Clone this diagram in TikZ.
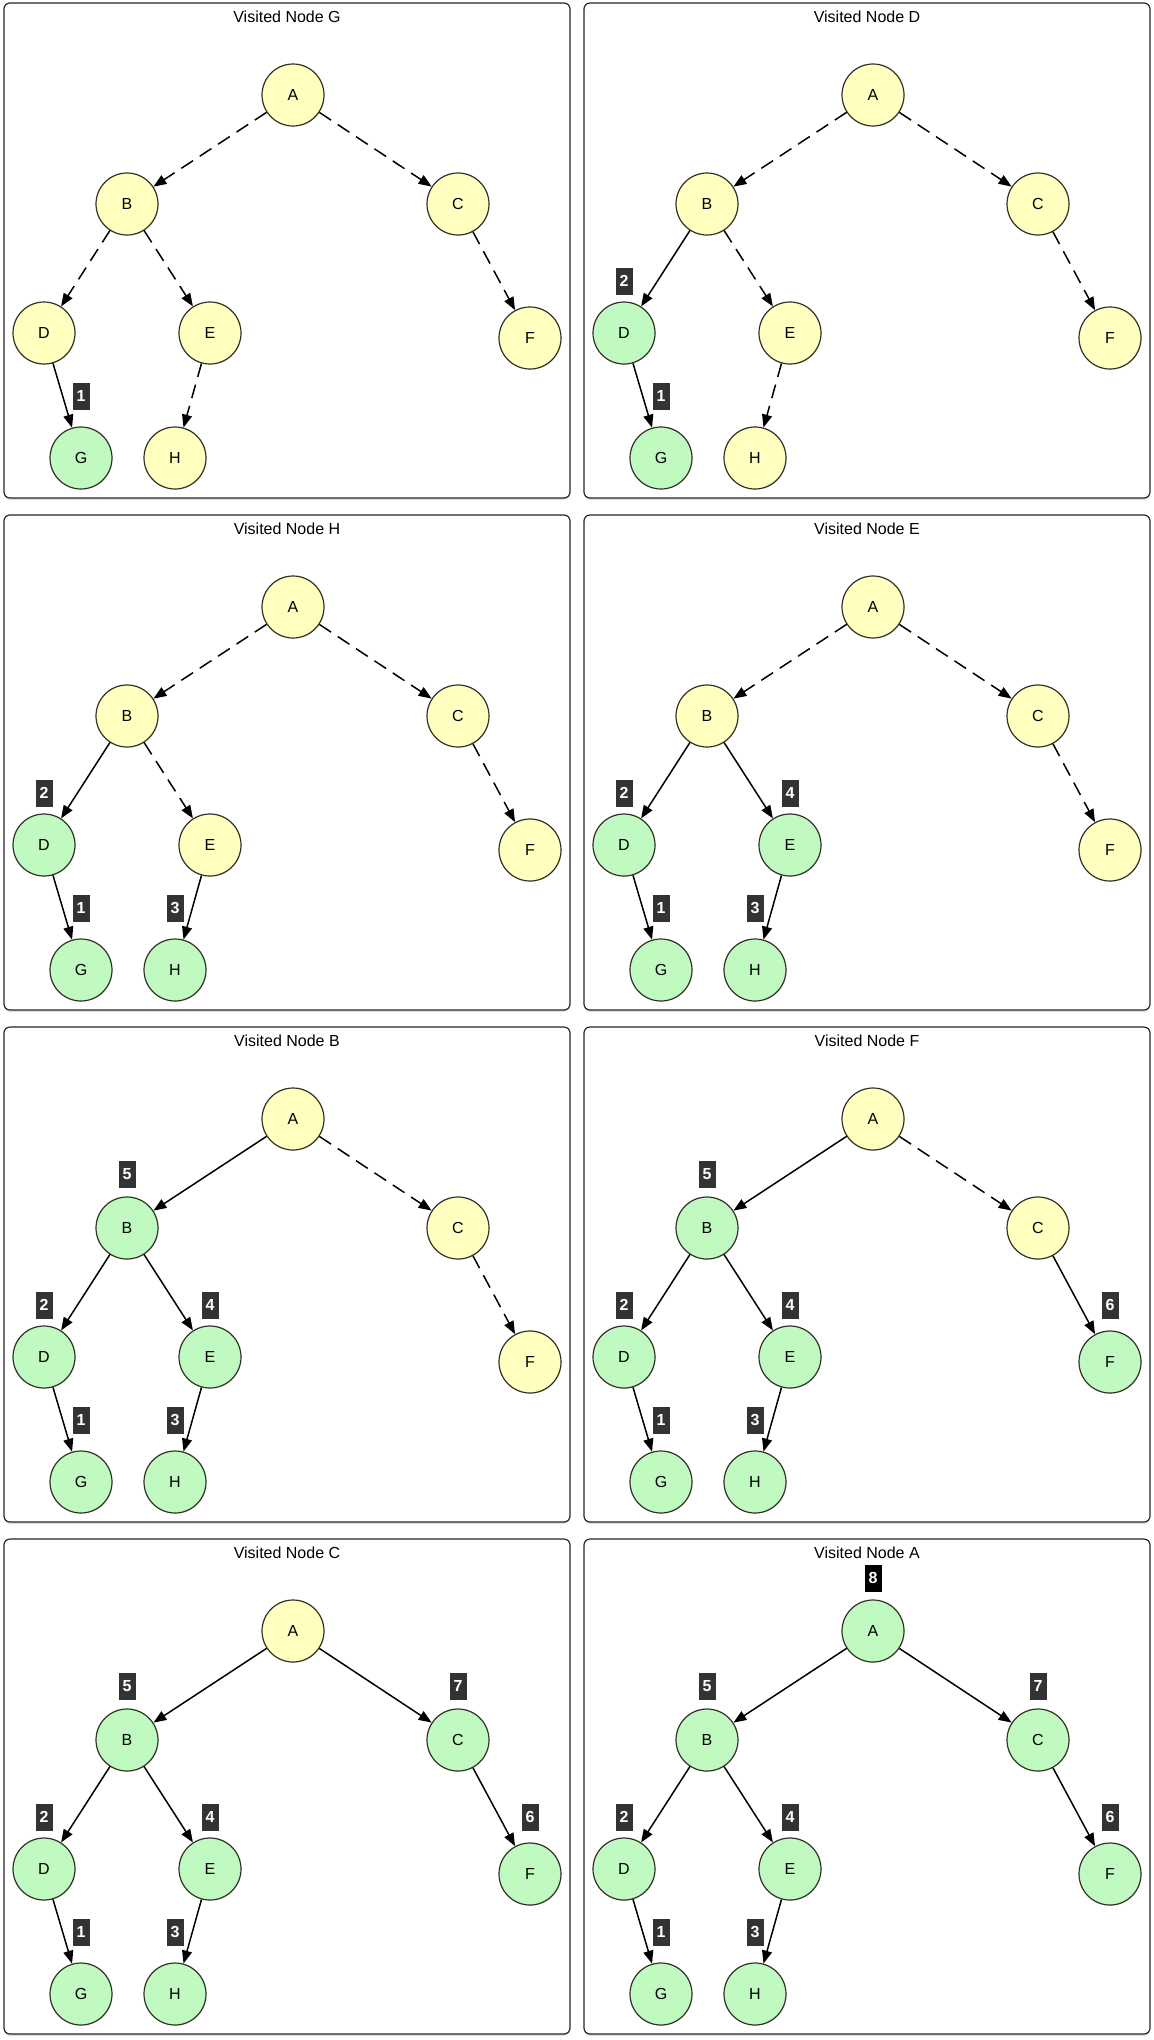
\documentclass[tikz,border=0pt]{standalone}
\usepackage{fontspec}
\setmainfont{Liberation Sans}
\usetikzlibrary{arrows.meta,positioning,shadows}
\definecolor{doneGreen}{RGB}{192,250,192}
\definecolor{waitYellow}{RGB}{255,255,192}
\definecolor{rimGray}{RGB}{50,50,40}
\definecolor{tagGray}{RGB}{51,51,51}

\begin{document}
\begin{tikzpicture}[
    x=0.5pt, y=-0.5pt,
    font=\fontsize{8}{9.6}\selectfont,
    panel/.style={draw=black!85, line width=0.6pt, rounded corners=3pt, fill=white,
        drop shadow={shadow xshift=0pt, shadow yshift=-1pt, opacity=0.25}},
    treenode/.style={circle, draw=rimGray, line width=0.6pt, minimum size=31pt, inner sep=0pt,
        drop shadow={shadow xshift=0.3pt, shadow yshift=-0.3pt, opacity=0.2}},
    visited/.style={treenode, fill=doneGreen},
    waiting/.style={treenode, fill=waitYellow},
    tag/.style={text=white, font=\fontsize{8}{9.6}\selectfont\bfseries,
        minimum width=8.5pt, minimum height=13.5pt, inner sep=0pt},
    arrow/.style={-{Triangle[length=6.5pt,width=5pt]}, line width=0.75pt},
    pending/.style={arrow, dash pattern=on 7pt off 4pt}
]
    \useasboundingbox (0,0) rectangle (1154,2040);
    % one panel per step of the post-order walk
    \foreach \k/\ttl/\px/\py in {1/G/4/3, 2/D/584/3, 3/H/4/515, 4/E/584/515,
                                 5/B/4/1027, 6/F/584/1027, 7/C/4/1539, 8/A/584/1539} {
        \begin{scope}[shift={(\px,\py)}]
            \draw[panel] (0,0) rectangle (566,495);
            \node (title\k) at (283,14) {Visited Node \ttl};
            % nodes: name / visit order / x / y / tag y
            \foreach \n/\o/\x/\y/\ty in {A/8/289/92/39, B/5/123/201/147, C/7/454/201/147,
                                         D/2/40/330/278, E/4/206/330/278, F/6/526/335/278,
                                         G/1/77/455/393, H/3/171/455/393} {
                \ifnum\o>\k
                    \node[waiting] (\n\k) at (\x,\y) {\n};
                \else
                    \node[visited] (\n\k) at (\x,\y) {\n};
                    \ifnum\o=8 \def\tagfill{black}\else\def\tagfill{tagGray}\fi
                    \node[tag, fill=\tagfill] (tag\n\k) at (\x,\ty) {\o};
                \fi
            }
            % edges: parent / child / visit order of child
            \foreach \p/\c/\o in {A/B/5, A/C/7, B/D/2, B/E/4, C/F/6, D/G/1, E/H/3} {
                \ifnum\o>\k
                    \draw[pending] (\p\k) -- (\c\k);
                \else
                    \draw[arrow] (\p\k) -- (\c\k);
                \fi
            }
        \end{scope}
    }
\end{tikzpicture}
\end{document}
